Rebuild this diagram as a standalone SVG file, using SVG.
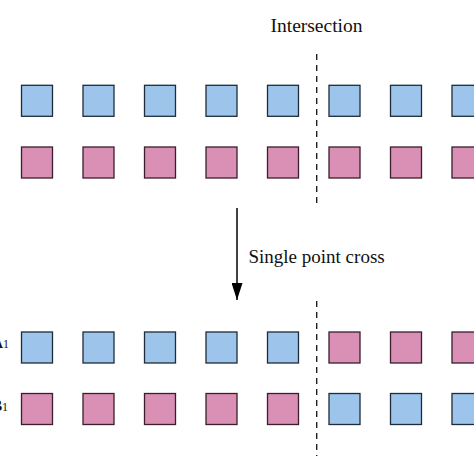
<svg xmlns="http://www.w3.org/2000/svg" width="474" height="474" viewBox="0 0 474 474">
<defs>
<style>
.b{fill:#9dc5eb;stroke:#1e2b38;stroke-width:1.3}
.p{fill:#da8fb5;stroke:#3a1e2c;stroke-width:1.3}
.t{font-family:"Liberation Serif","Times New Roman",serif;fill:#111}
.d{stroke:#222;stroke-width:1.4;stroke-dasharray:6 5;fill:none}
</style>
<marker id="ah" viewBox="0 0 17 11" refX="17" refY="5.5" markerWidth="17" markerHeight="11" markerUnits="userSpaceOnUse" orient="auto"><path d="M0,0 L17,5.5 L0,11 Z" fill="#000"/></marker>
</defs>
<rect width="474" height="474" fill="#fff"/>
<text class="t" x="316.5" y="32" font-size="19.5" text-anchor="middle">Intersection</text>
<g id="parent-top">
<g id="row1">
<rect class="b" x="21.5" y="85.3" width="31" height="31"/>
<rect class="b" x="83" y="85.3" width="31" height="31"/>
<rect class="b" x="144.5" y="85.3" width="31" height="31"/>
<rect class="b" x="206" y="85.3" width="31" height="31"/>
<rect class="b" x="267.5" y="85.3" width="31" height="31"/>
<rect class="b" x="329" y="85.3" width="31" height="31"/>
<rect class="b" x="390.5" y="85.3" width="31" height="31"/>
<rect class="b" x="452" y="85.3" width="31" height="31"/>
</g>
<g id="row2">
<rect class="p" x="21.5" y="147" width="31" height="31"/>
<rect class="p" x="83" y="147" width="31" height="31"/>
<rect class="p" x="144.5" y="147" width="31" height="31"/>
<rect class="p" x="206" y="147" width="31" height="31"/>
<rect class="p" x="267.5" y="147" width="31" height="31"/>
<rect class="p" x="329" y="147" width="31" height="31"/>
<rect class="p" x="390.5" y="147" width="31" height="31"/>
<rect class="p" x="452" y="147" width="31" height="31"/>
</g>
</g>
<g id="connectors">
<line class="d" x1="316.7" y1="54" x2="316.7" y2="208"/>
<line class="d" x1="316.7" y1="301" x2="316.7" y2="456"/>
<line x1="237" y1="208" x2="237" y2="300" stroke="#000" stroke-width="1.5" marker-end="url(#ah)"/>
</g>
<text class="t" x="248.5" y="262.5" font-size="19">Single point cross</text>
<g id="child-a1">
<text class="t" x="-8.6" y="348" font-size="16"><tspan font-weight="bold">A</tspan><tspan font-size="12">1</tspan></text>
<rect class="b" x="21.5" y="332" width="31" height="31"/>
<rect class="b" x="83" y="332" width="31" height="31"/>
<rect class="b" x="144.5" y="332" width="31" height="31"/>
<rect class="b" x="206" y="332" width="31" height="31"/>
<rect class="b" x="267.5" y="332" width="31" height="31"/>
<rect class="p" x="329" y="332" width="31" height="31"/>
<rect class="p" x="390.5" y="332" width="31" height="31"/>
<rect class="p" x="452" y="332" width="31" height="31"/>
</g>
<g id="child-b1">
<text class="t" x="-8.6" y="411" font-size="16"><tspan font-weight="bold">B</tspan><tspan font-size="12">1</tspan></text>
<rect class="p" x="21.5" y="393.5" width="31" height="31"/>
<rect class="p" x="83" y="393.5" width="31" height="31"/>
<rect class="p" x="144.5" y="393.5" width="31" height="31"/>
<rect class="p" x="206" y="393.5" width="31" height="31"/>
<rect class="p" x="267.5" y="393.5" width="31" height="31"/>
<rect class="b" x="329" y="393.5" width="31" height="31"/>
<rect class="b" x="390.5" y="393.5" width="31" height="31"/>
<rect class="b" x="452" y="393.5" width="31" height="31"/>
</g>
</svg>
